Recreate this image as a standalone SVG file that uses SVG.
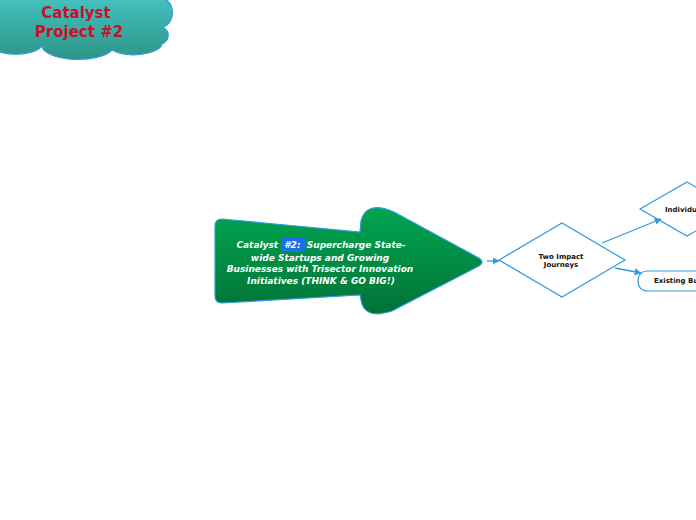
<svg xmlns="http://www.w3.org/2000/svg" width="696" height="520" viewBox="0 0 696 520">
<defs>
<linearGradient id="gCloud" x1="0" y1="0" x2="0" y2="1"><stop offset="0" stop-color="#44c2c0"/><stop offset="1" stop-color="#2e9486"/></linearGradient>
<linearGradient id="gArrow" x1="0" y1="0" x2="0" y2="1"><stop offset="0" stop-color="#00a650"/><stop offset="1" stop-color="#007236"/></linearGradient>
<marker id="ah" viewBox="0 0 10 10" refX="9" refY="5" markerWidth="7" markerHeight="7" orient="auto" markerUnits="userSpaceOnUse"><path d="M0,0 L10,5 L0,10 Z" fill="#2f9be0"/></marker>
<style>
.ln{stroke:#2f9be0;stroke-width:1.3;fill:none;marker-end:url(#ah)}
.sh{stroke:#2f9be0;stroke-width:1.2;fill:#fff}
.t7{font-family:"DejaVu Sans",Verdana,sans-serif;font-weight:bold;font-size:7px;fill:#111}
.tw{font-family:"DejaVu Sans",Verdana,sans-serif;font-weight:bold;font-style:italic;font-size:9px;fill:#fff;text-anchor:middle;white-space:pre}
</style>
</defs>
<g id="cloud">
<path d="M-10,40 A24,10 0 0 0 42,46 A36,14 0 0 0 112,50 A28,12 0 0 0 162,44 A12,10 0 0 0 163,27 A12,14 0 0 0 156,-2 L-10,-2 Z" fill="url(#gCloud)" stroke="#2f9be0" stroke-width="1.2"/>
<text x="76" y="18" font-family="DejaVu Sans,Verdana,sans-serif" font-weight="bold" font-size="15" fill="#c8102e" text-anchor="middle">Catalyst</text>
<text x="79" y="37" font-family="DejaVu Sans,Verdana,sans-serif" font-weight="bold" font-size="15" fill="#c8102e" text-anchor="middle">Project #2</text>
</g>
<g id="main">
<path d="M222,219 Q215,219 215,226 L215,296 Q215,303 222,303 L360,295 L361,300 Q364,320 392,311 L477,267 Q487,262 477,257 L394,212 Q366,200 361,221 L360,232 Z" fill="url(#gArrow)" stroke="#2f9be0" stroke-width="1.2"/>
<rect x="281" y="238" width="25" height="14" rx="2" fill="#1a6ee8"/>
<text class="tw" x="321" y="248" xml:space="preserve">Catalyst  #2:  Supercharge State-</text>
<text class="tw" x="320" y="261">wide Startups and Growing</text>
<text class="tw" x="320" y="272">Businesses with Trisector Innovation</text>
<text class="tw" x="321" y="284">Initiatives (THINK &amp; GO BIG!)</text>
</g>
<g id="journeys">
<path class="sh" d="M499,260 L562,223 L625,260 L562,297 Z"/>
<text class="t7" x="561" y="259" text-anchor="middle">Two Impact</text>
<text class="t7" x="561" y="267" text-anchor="middle">Journeys</text>
</g>
<g id="individuals">
<path class="sh" d="M640,209 L687,182 L734,209 L687,236 Z"/>
<text class="t7" x="665" y="212">Individuals</text>
</g>
<g id="existing">
<rect class="sh" x="638" y="271" width="120" height="20" rx="9"/>
<text class="t7" x="654" y="283">Existing Businesses</text>
</g>
<g id="connectors">
<path class="ln" d="M487,261 L499,261"/>
<path class="ln" d="M602,243 L661,219"/>
<path class="ln" d="M615,268 L641,273"/>
</g>
</svg>
